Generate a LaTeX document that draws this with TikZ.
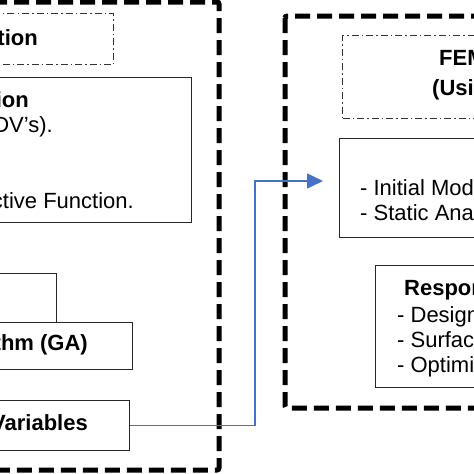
\documentclass[tikz,border=0pt]{standalone}
\usepackage{fontspec}
\setmainfont{Liberation Sans}
\usetikzlibrary{arrows.meta}
\definecolor{linkblue}{RGB}{68,114,196}
\begin{document}
\begin{tikzpicture}[x=1pt,y=-1pt,
    frame/.style={draw=black,line width=5pt,dash pattern=on 15pt off 7pt,rounded corners=2pt},
    titlebox/.style={draw=black!80,line width=1pt,dash pattern=on 7pt off 3pt on 1.5pt off 3pt,inner sep=0pt},
    box/.style={draw=black!85,line width=1.3pt,inner sep=0pt},
    txt/.style={inner sep=0pt,font=\fontsize{22}{25}\selectfont},
    head/.style={txt,font=\fontsize{22}{25}\selectfont\bfseries},
    flow/.style={draw=linkblue,line width=1.5pt,-{Triangle[length=16pt,width=15pt]}}]
  \useasboundingbox (0,0) rectangle (474,474);
  \fill[white] (0,0) rectangle (474,474);

  % optimisation side
  \draw[frame] (-200,2) rectangle (219,470);
  \node[titlebox,minimum width=314pt,minimum height=51pt,anchor=north east] (gatitle) at (114,13) {};
  \node[head,anchor=base east] (gatext) at (38,45) {GA Optimization};

  \node[box,minimum width=392pt,minimum height=145pt,anchor=north east] (probbox) at (192,77) {};
  \node[head,anchor=base east] (probhead) at (29,107) {Problem Definition};
  \node[txt,anchor=base east] (probdv) at (53,132) {- Design Variables (DV’s).};
  \node[txt,anchor=base east] (probobj) at (134,208) {- Objective Function.};

  \node[box,minimum width=257pt,minimum height=49pt,anchor=north east] (popbox) at (57,273) {};
  \node[box,minimum width=333pt,minimum height=47pt,anchor=north east] (gabox) at (133,322) {};
  \node[head,anchor=base east] (gahead) at (88,350) {Genetic Algorithm (GA)};

  \node[box,minimum width=330pt,minimum height=50pt,anchor=north east] (varbox) at (130,400) {};
  \node[head,anchor=base east] (varhead) at (88,430) {Optimal Design Variables};

  % FEM side
  \draw[frame] (285,16) rectangle (700,408);
  \node[titlebox,minimum width=300pt,minimum height=83pt,anchor=north west] (femtitle) at (342,35) {};
  \node[head,anchor=base west] (femhead) at (439,65) {FEM Analysis};
  \node[head,anchor=base west] (femtool) at (432,95) {(Using ANSYS)};

  \node[box,minimum width=300pt,minimum height=99pt,anchor=north west] (modbox) at (339,138) {};
  \node[txt,anchor=base west] (modinit) at (360,195) {- Initial Model};
  \node[txt,anchor=base west] (modstat) at (360,220) {- Static Analysis};

  \node[box,minimum width=300pt,minimum height=122pt,anchor=north west] (rsmbox) at (375,265) {};
  \node[head,anchor=base west] (rsmhead) at (404,295) {Response Surface};
  \node[txt,anchor=base west] (rsmdoe) at (397,322) {- Design of Experiments};
  \node[txt,anchor=base west] (rsmfit) at (397,347) {- Surface Fitting};
  \node[txt,anchor=base west] (rsmopt) at (397,372) {- Optimization};

  % link between the two sides
  \coordinate (femin) at (323,181);
  \draw[flow] (varbox.east) -- ++(125,0) |- (femin);
\end{tikzpicture}
\end{document}
